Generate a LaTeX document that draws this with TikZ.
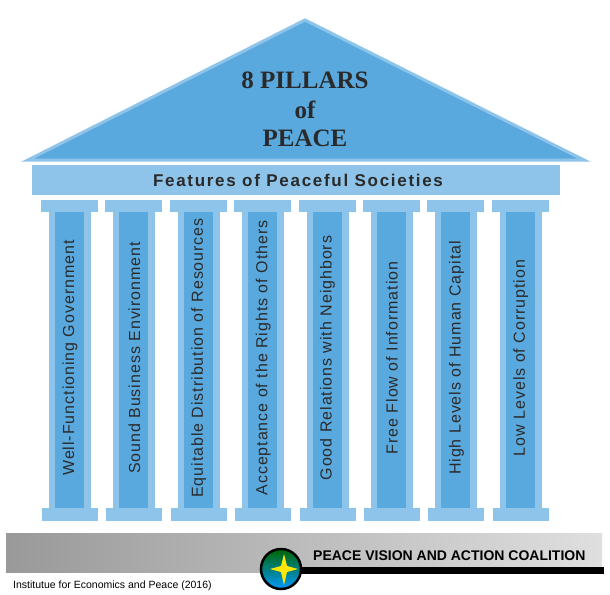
\documentclass[tikz,border=0pt]{standalone}
\usepackage{fontspec}
\setmainfont{Liberation Sans}
\newfontfamily\serifb{Liberation Serif}
\newfontfamily\spaced[LetterSpace=6]{Liberation Sans}
\newfontfamily\wide[LetterSpace=10]{Liberation Sans}
\usetikzlibrary{shadings}
\definecolor{lb}{HTML}{8EC3EA}
\definecolor{db}{HTML}{5AA9DE}
\definecolor{tx}{HTML}{2A2A2A}
\begin{document}
\begin{tikzpicture}[x=1pt,y=-1pt,
  pilltext/.style={rotate=90,font=\spaced\fontsize{16}{18}\selectfont,text=tx,inner sep=0}]
\useasboundingbox (0,0) rectangle (610,594);
\fill[white] (0,0) rectangle (610,594);
% pediment
\filldraw[fill=db,draw=lb,line width=3pt,line join=miter] (28,160) -- (305,20) -- (584,160) -- cycle;
\node (t1) at (305,80) {\serifb\bfseries\fontsize{25}{27}\selectfont\color{tx}8 PILLARS};
\node (t2) at (305,110) {\serifb\bfseries\fontsize{25}{27}\selectfont\color{tx}of};
\node (t3) at (305,138) {\serifb\bfseries\fontsize{25}{27}\selectfont\color{tx}PEACE};
% frieze
\fill[lb] (32,165) rectangle (560,195);
\node (fr) at (298,180) {\wide\bfseries\fontsize{17}{19}\selectfont\color{tx}Features of Peaceful Societies};
% pillars
\foreach \i/\t in {0/Well-Functioning Government,1/Sound Business Environment,2/Equitable Distribution of Resources,3/Acceptance of the Rights of Others,4/Good Relations with Neighbors,5/Free Flow of Information,6/High Levels of Human Capital,7/Low Levels of Corruption}{
  \pgfmathsetmacro\c{70+64.4*\i}
  \fill[lb] (\c-29,200) rectangle (\c+28,212);
  \fill[lb] (\c-21,212) rectangle (\c+21,508);
  \fill[db] (\c-15,212) rectangle (\c+14,508);
  \fill[lb] (\c-28,508) rectangle (\c+28,521);
  \node[pilltext] (p\i) at (\c,358) {\t};
}
% bottom bar
\shade[left color=gray!80,right color=gray!25] (6,533) rectangle (602,572);
\fill[black] (300,567) rectangle (604,574);
\node[anchor=west,inner sep=0] (pv) at (313,556) {\bfseries\fontsize{14}{16}\selectfont PEACE VISION AND ACTION COALITION};
\shade[top color=green!40!black,bottom color=cyan!60!blue] (281,569) circle (20);
\draw[black,line width=2.5pt] (281,569) circle (20);
\fill[yellow!90!orange] (284,554) -- (287,566) -- (298,569) -- (287,572) -- (284,585) -- (281,572) -- (270,569) -- (281,566) -- cycle;
\node[anchor=west,inner sep=0] (src) at (13,586) {\fontsize{10.5}{12}\selectfont Institutue for Economics and Peace (2016)};
\end{tikzpicture}
\end{document}
